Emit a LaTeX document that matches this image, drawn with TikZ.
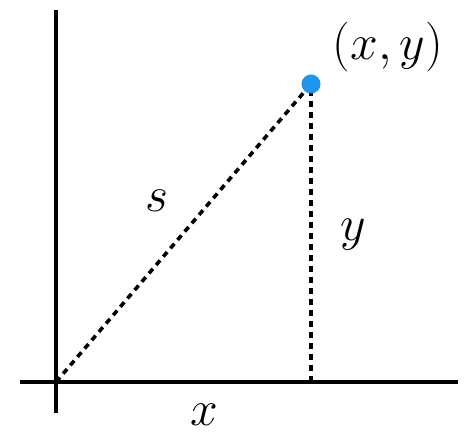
\documentclass[tikz,border=0pt]{standalone}
\usepackage{tikz}
\definecolor{dotblue}{RGB}{30,150,240}
\tikzset{
  axis/.style={line width=1.8pt},
  guide/.style={line width=1.8pt,dash pattern=on 3pt off 2.5pt},
  lbl/.style={font=\fontsize{24}{28}\selectfont}
}
\begin{document}
\begin{tikzpicture}[x=0.5pt,y=0.5pt]
    \useasboundingbox (0,0) rectangle (474,439);
    \coordinate (o) at (56,57);
    \coordinate (top) at (56,429);
    \coordinate (bot) at (56,26);
    \coordinate (left) at (20,57);
    \coordinate (right) at (458,57);
    \coordinate (p) at (311,355);
    \coordinate (foot) at (311,57);

    \draw[axis] (bot) -- (top);
    \draw[axis] (left) -- (right);

    \draw[guide] (o) -- (p);
    \draw[guide] (foot) -- (p);
    \fill[dotblue] (p) circle (9.5);

    \node[lbl] (pt) at (388,392) {$(x,y)$};
    \node[lbl] (s) at (157,238) {$s$};
    \node[lbl] (ylab) at (353,204) {$y$};
    \node[lbl] (xlab) at (204,24) {$x$};
  \end{tikzpicture}
\end{document}
